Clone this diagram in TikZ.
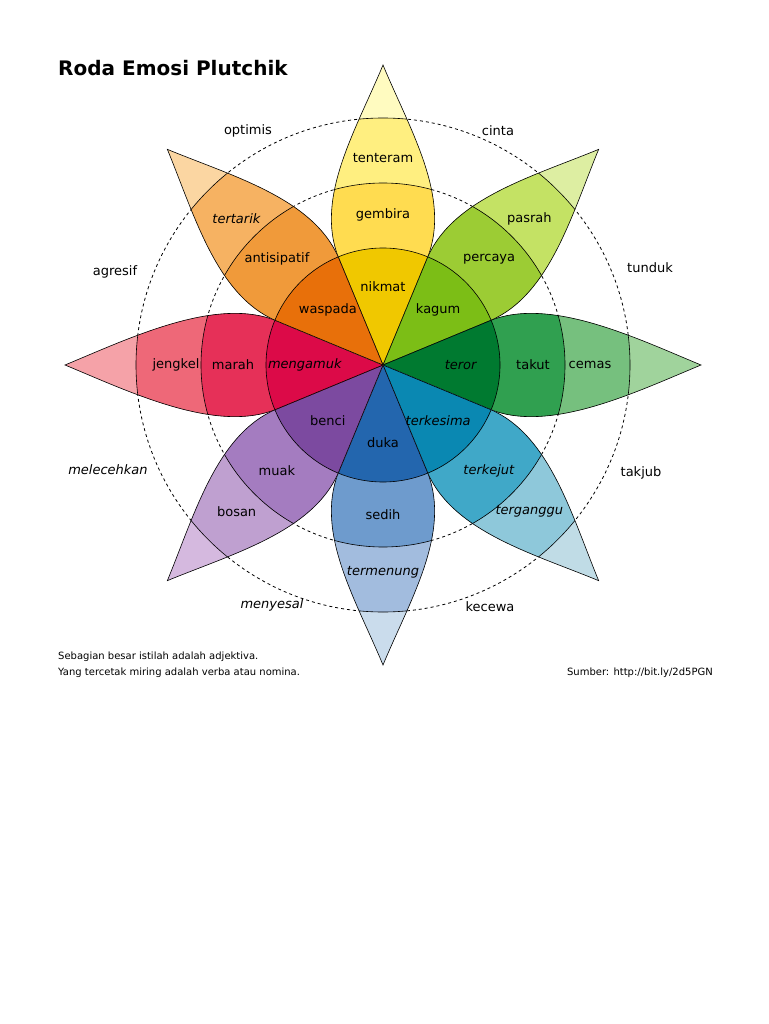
\documentclass[tikz,border=0pt]{standalone}
\usepackage{fontspec}
\setmainfont{DejaVu Sans}
\usetikzlibrary{calc}
\definecolor{yA}{HTML}{F0C800}\definecolor{yB}{HTML}{FFDC50}\definecolor{yC}{HTML}{FFEF80}\definecolor{yD}{HTML}{FFFBC0}
\definecolor{gA}{HTML}{7CBE16}\definecolor{gB}{HTML}{9CCC34}\definecolor{gC}{HTML}{C4E264}\definecolor{gD}{HTML}{DDEEA2}
\definecolor{dA}{HTML}{007A30}\definecolor{dB}{HTML}{30A050}\definecolor{dC}{HTML}{76C07E}\definecolor{dD}{HTML}{A0D39C}
\definecolor{tA}{HTML}{0A88B2}\definecolor{tB}{HTML}{40A8C8}\definecolor{tC}{HTML}{8EC8DA}\definecolor{tD}{HTML}{C0DCE6}
\definecolor{bA}{HTML}{2366AE}\definecolor{bB}{HTML}{6E9BCD}\definecolor{bC}{HTML}{A2BCDE}\definecolor{bD}{HTML}{CADCEC}
\definecolor{pA}{HTML}{7C4AA0}\definecolor{pB}{HTML}{A47CC0}\definecolor{pC}{HTML}{BFA0D0}\definecolor{pD}{HTML}{D5B9DF}
\definecolor{rA}{HTML}{DC0A48}\definecolor{rB}{HTML}{E63058}\definecolor{rC}{HTML}{EE6878}\definecolor{rD}{HTML}{F5A2A8}
\definecolor{oA}{HTML}{E8700A}\definecolor{oB}{HTML}{F09A3A}\definecolor{oC}{HTML}{F6B262}\definecolor{oD}{HTML}{FBD6A2}
\tikzset{
  lbl/.style={font=\fontsize{13}{15}\selectfont, inner sep=1pt},
  note/.style={font=\fontsize{10}{12}\selectfont, inner sep=0pt},
}
\begin{document}
\begin{tikzpicture}[x=1pt,y=1pt]
          \useasboundingbox (0,-1024) rectangle (768,0);
          \coordinate (c) at (383,-365);
          % lingkaran putus-putus
          \draw[dashed, thick] (c) circle (182);
          \draw[dashed, thick] (c) circle (247);
          % kelopak
          \foreach \a/\L/\ci/\cm/\co/\ct [count=\i] in {90/300/yA/yB/yC/yD, 45/305/gA/gB/gC/gD, 0/318/dA/dB/dC/dD, -45/305/tA/tB/tC/tD, -90/300/bA/bB/bC/bD, -135/305/pA/pB/pC/pD, 180/318/rA/rB/rC/rD, 135/305/oA/oB/oC/oD}{
            \begin{scope}[shift={(383,-365)}, rotate=\a]
              \begin{scope}
                \clip (0,0) -- (22.5:117) .. controls (168,68) and (\L-65,27) .. (\L,0) .. controls (\L-65,-27) and (168,-68) .. (-22.5:117) -- cycle;
                \fill[\ct] (0,0) circle (330);
                \fill[\co] (0,0) circle (247);
                \fill[\cm] (0,0) circle (182);
                \fill[\ci] (0,0) circle (117);
                \draw[semithick] (0,0) circle (117) (0,0) circle (182) (0,0) circle (247);
              \end{scope}
              \draw[semithick] (0,0) -- (22.5:117) .. controls (168,68) and (\L-65,27) .. (\L,0) .. controls (\L-65,-27) and (168,-68) .. (-22.5:117) -- cycle;
            \end{scope}
          }
          % label dalam kelopak
          \foreach \a/\ni/\nm/\no [count=\i] in {90/nikmat/gembira/tenteram, 45/kagum/percaya/pasrah, 0/\textit{teror}/takut/cemas, -45/\textit{terkesima}/\textit{terkejut}/\textit{terganggu}, -90/duka/sedih/\textit{termenung}, -135/benci/muak/bosan, 180/\textit{mengamuk}/marah/jengkel, 135/waspada/antisipatif/\textit{tertarik}}{
            \node[lbl] (in\i) at ($(c)+(\a:78)$) {\ni};
            \node[lbl] (mid\i) at ($(c)+(\a:150)$) {\nm};
            \node[lbl] (out\i) at ($(c)+(\a:207)$) {\no};
          }
          % label di antara kelopak
          \node[lbl] (optimis) at (248,-131) {optimis};
          \node[lbl] (cinta) at (498,-131) {cinta};
          \node[lbl] (tunduk) at (650,-268) {tunduk};
          \node[lbl] (takjub) at (641,-473) {takjub};
          \node[lbl] (kecewa) at (490,-607) {kecewa};
          \node[lbl] (menyesal) at (272,-605) {\textit{menyesal}};
          \node[lbl] (melecehkan) at (108,-470) {\textit{melecehkan}};
          \node[lbl] (agresif) at (115,-272) {agresif};
          % judul dan catatan
          \node[anchor=west, inner sep=0pt, font=\fontsize{20}{24}\selectfont\bfseries] (judul) at (58,-68) {Roda Emosi Plutchik};
          \node[note, anchor=west] (cat1) at (58,-657) {Sebagian besar istilah adalah adjektiva.};
          \node[note, anchor=west] (cat2) at (58,-673) {Yang tercetak miring adalah verba atau nomina.};
          \node[note, anchor=east] (sumber) at (713,-673) {Sumber: http://bit.ly/2d5PGN};
        \end{tikzpicture}
\end{document}
